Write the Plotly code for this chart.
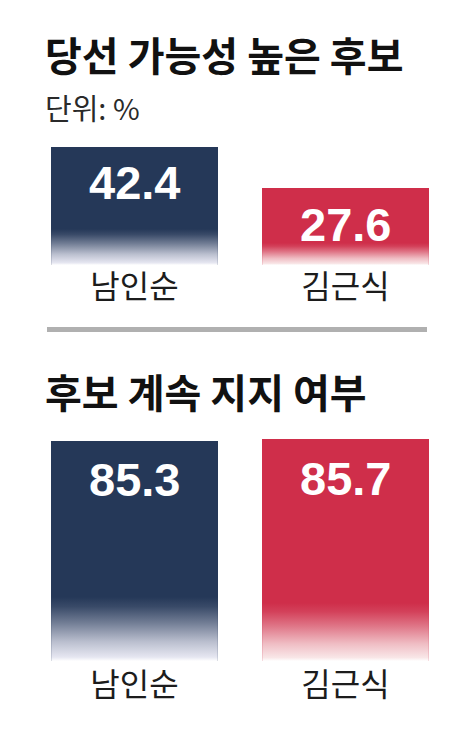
import plotly.graph_objects as go

# ---------------------------------------------------------------------------
# data

candidates = ["남인순", "김근식"]
winnable = [42.4, 27.6]          # 당선 가능성 높은 후보
keep_support = [85.3, 85.7]      # 후보 계속 지지 여부

title_top = "당선 가능성 높은 후보"
unit_text = "단위: %"
title_bottom = "후보 계속 지지 여부"

# ---------------------------------------------------------------------------
# style

PAGE_W, PAGE_H = 474, 740
OFF = 8                          # default body margin of the html page
W, H = PAGE_W - OFF, PAGE_H - OFF
NAVY = "#253858"
RED = "#cf2e4a"
INK = "#1c1c1c"
KR = "Noto Sans CJK KR"
NUM = "Liberation Sans, Arial, sans-serif"
BAR_W = 0.79

# page-pixel anchors per panel: (domain top, baseline, px per unit)
PANEL_TOP = (140, 265, 118 / 42.4)
PANEL_BOT = (428, 661, 221 / 85.5)
# fade-out height at the bottom of each bar (px) and its tint
FADE_TOP = [36, 22]
FADE_BOT = [64, 58]
FADE_TINT = ["236,236,246", "250,236,236"]


def px_x(px):
    return (px - OFF) / W


def px_y(px):
    return 1 - (px - OFF) / H


fig = go.Figure()


def add_panel(values, xa, ya, panel, fades, label_shift):
    top_px, base_px, k = panel
    colors = [NAVY, RED]
    fig.add_trace(go.Bar(
        x=list(range(len(values))), y=values, width=BAR_W,
        marker=dict(color=colors, line=dict(width=0)),
        xaxis=xa, yaxis=ya, hoverinfo="skip", showlegend=False,
    ))
    # soft fade over the bottom of each bar
    for i, f in enumerate(fades):
        h = f / k
        tint = FADE_TINT[i]
        fig.add_trace(go.Scatter(
            x=[i - BAR_W / 2, i + BAR_W / 2, i + BAR_W / 2, i - BAR_W / 2, i - BAR_W / 2],
            y=[0, 0, h, h, 0],
            mode="none", fill="toself",
            fillgradient=dict(
                type="vertical", start=0, stop=h,
                colorscale=[[0, "rgba(255,255,255,1)"], [0.06, f"rgba({tint},0.97)"],
                            [0.3, f"rgba({tint},0.75)"], [0.6, f"rgba({tint},0.38)"],
                            [0.85, f"rgba({tint},0.1)"], [1, f"rgba({tint},0)"]],
            ),
            xaxis=xa, yaxis=ya, hoverinfo="skip", showlegend=False,
        ))
    for i, v in enumerate(values):
        fig.add_annotation(
            x=i, y=v, xref=xa, yref=ya, text=f"<b>{v}</b>", showarrow=False,
            yanchor="middle", yshift=-label_shift,
            font=dict(family=NUM, size=47, color="white"),
        )


add_panel(winnable, "x", "y", PANEL_TOP, FADE_TOP, 36)
add_panel(keep_support, "x2", "y2", PANEL_BOT, FADE_BOT, 39)

x_dom = [px_x(29), px_x(451)]
xcommon = dict(range=[-0.5, 1.5], tickvals=[0, 1], ticktext=candidates,
               tickfont=dict(family=KR, size=32, color=INK), showgrid=False,
               zeroline=False, showline=False, ticks="", fixedrange=True)

t, b, k = PANEL_TOP
fig.update_layout(
    xaxis=dict(domain=x_dom, anchor="y", **xcommon),
    yaxis=dict(domain=[px_y(b), px_y(t)], range=[0, (b - t) / k], visible=False),
)
t, b, k = PANEL_BOT
fig.update_layout(
    xaxis2=dict(domain=x_dom, anchor="y2", ticklabelstandoff=2, **xcommon),
    yaxis2=dict(domain=[px_y(b), px_y(t)], range=[0, (b - t) / k], visible=False),
)

# titles
for txt, cy, size, bold, col in [
    (title_top, 54, 40, True, "#111111"),
    (unit_text, 107, 29, False, "#2a2a2a"),
    (title_bottom, 391, 40, True, "#111111"),
]:
    fig.add_annotation(
        x=px_x(43), y=px_y(cy), xref="paper", yref="paper", xanchor="left", yanchor="middle",
        text=f"<b>{txt}</b>" if bold else txt, showarrow=False,
        font=dict(family=KR, size=size, color=col),
    )

# separator
fig.add_shape(type="line", xref="paper", yref="paper",
              x0=px_x(47), x1=px_x(427), y0=px_y(329.5), y1=px_y(329.5),
              line=dict(color="#b0b0b0", width=5))

fig.update_layout(
    width=W, height=H, margin=dict(l=0, r=0, t=0, b=0),
    paper_bgcolor="white", plot_bgcolor="white",
    bargap=0, showlegend=False,
)

fig.write_html("out.html")
